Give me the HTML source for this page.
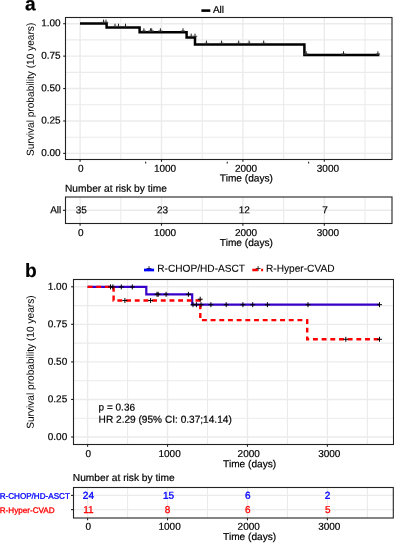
<!DOCTYPE html>
<html><head><meta charset="utf-8"><title>Survival curves</title>
<style>
html,body{margin:0;padding:0;background:#fff;}
body{width:394px;height:543px;overflow:hidden;}
svg{display:block;font-family:"Liberation Sans", Arial, Helvetica, sans-serif;}
text{stroke:currentColor;stroke-width:0.2px;}
</style></head>
<body>
<svg width="394" height="543" viewBox="0 0 394 543">
<rect x="0" y="0" width="394" height="543" fill="#fff"/>
<text transform="translate(24.90,10.30) rotate(0.05)" font-size="19.2" text-anchor="start" fill="#000" color="#000" font-weight="bold" >a</text>
<line x1="201.4" y1="10.6" x2="210.3" y2="10.6" stroke="#000" stroke-width="2.6"/>
<text transform="translate(212.90,13.00) rotate(0.05)" font-size="10" text-anchor="start" fill="#000" color="#000" font-weight="normal" >All</text>
<line x1="120.8" y1="17.5" x2="120.8" y2="159.5" stroke="#ebebeb" stroke-width="1.1"/>
<line x1="202.2" y1="17.5" x2="202.2" y2="159.5" stroke="#ebebeb" stroke-width="1.1"/>
<line x1="283.6" y1="17.5" x2="283.6" y2="159.5" stroke="#ebebeb" stroke-width="1.1"/>
<line x1="365.0" y1="17.5" x2="365.0" y2="159.5" stroke="#ebebeb" stroke-width="1.1"/>
<line x1="65.5" y1="137.19" x2="392.0" y2="137.19" stroke="#ebebeb" stroke-width="1.1"/>
<line x1="65.5" y1="104.76" x2="392.0" y2="104.76" stroke="#ebebeb" stroke-width="1.1"/>
<line x1="65.5" y1="72.34" x2="392.0" y2="72.34" stroke="#ebebeb" stroke-width="1.1"/>
<line x1="65.5" y1="39.91" x2="392.0" y2="39.91" stroke="#ebebeb" stroke-width="1.1"/>
<line x1="80.1" y1="17.5" x2="80.1" y2="159.5" stroke="#ebebeb" stroke-width="1.4"/>
<line x1="161.5" y1="17.5" x2="161.5" y2="159.5" stroke="#ebebeb" stroke-width="1.4"/>
<line x1="242.9" y1="17.5" x2="242.9" y2="159.5" stroke="#ebebeb" stroke-width="1.4"/>
<line x1="324.3" y1="17.5" x2="324.3" y2="159.5" stroke="#ebebeb" stroke-width="1.4"/>
<line x1="65.5" y1="153.4" x2="392.0" y2="153.4" stroke="#ebebeb" stroke-width="1.4"/>
<line x1="65.5" y1="120.98" x2="392.0" y2="120.98" stroke="#ebebeb" stroke-width="1.4"/>
<line x1="65.5" y1="88.55" x2="392.0" y2="88.55" stroke="#ebebeb" stroke-width="1.4"/>
<line x1="65.5" y1="56.13" x2="392.0" y2="56.13" stroke="#ebebeb" stroke-width="1.4"/>
<line x1="65.5" y1="23.7" x2="392.0" y2="23.7" stroke="#ebebeb" stroke-width="1.4"/>
<path d="M80.0,23.6H106.6V27.6H139.6V32.2H186.6V37.5H195.0V44.4H304.4V55.1H379.4" fill="none" stroke="#000" stroke-width="2.5"/>
<path d="M101.4,22.3H105.8" stroke="#444" stroke-width="1.0" fill="none"/><path d="M103.6,19.6V23.4" stroke="#222" stroke-width="1.0" fill="none"/>
<path d="M103.8,22.3H108.2" stroke="#444" stroke-width="1.0" fill="none"/><path d="M106.0,19.6V23.4" stroke="#222" stroke-width="1.0" fill="none"/>
<path d="M112.8,26.4H117.2" stroke="#444" stroke-width="1.0" fill="none"/><path d="M115,23.7V27.5" stroke="#222" stroke-width="1.0" fill="none"/>
<path d="M116.3,26.4H120.7" stroke="#444" stroke-width="1.0" fill="none"/><path d="M118.5,23.7V27.5" stroke="#222" stroke-width="1.0" fill="none"/>
<path d="M123.3,26.4H127.7" stroke="#444" stroke-width="1.0" fill="none"/><path d="M125.5,23.7V27.5" stroke="#222" stroke-width="1.0" fill="none"/>
<path d="M141.7,31.0H146.1" stroke="#444" stroke-width="1.0" fill="none"/><path d="M143.9,28.3V32.1" stroke="#222" stroke-width="1.0" fill="none"/>
<path d="M148.3,31.0H152.7" stroke="#444" stroke-width="1.0" fill="none"/><path d="M150.5,28.3V32.1" stroke="#222" stroke-width="1.0" fill="none"/>
<path d="M149.5,31.0H153.9" stroke="#444" stroke-width="1.0" fill="none"/><path d="M151.7,28.3V32.1" stroke="#222" stroke-width="1.0" fill="none"/>
<path d="M158.2,31.0H162.6" stroke="#444" stroke-width="1.0" fill="none"/><path d="M160.4,28.3V32.1" stroke="#222" stroke-width="1.0" fill="none"/>
<path d="M180.8,31.0H185.2" stroke="#444" stroke-width="1.0" fill="none"/><path d="M183,28.3V32.1" stroke="#222" stroke-width="1.0" fill="none"/>
<path d="M189.0,36.3H193.4" stroke="#444" stroke-width="1.0" fill="none"/><path d="M191.2,33.6V37.4" stroke="#222" stroke-width="1.0" fill="none"/>
<path d="M192.8,36.3H197.2" stroke="#444" stroke-width="1.0" fill="none"/><path d="M195,33.6V37.4" stroke="#222" stroke-width="1.0" fill="none"/>
<path d="M204.2,43.3H208.6" stroke="#444" stroke-width="1.0" fill="none"/><path d="M206.4,40.6V44.4" stroke="#222" stroke-width="1.0" fill="none"/>
<path d="M219.4,43.3H223.8" stroke="#444" stroke-width="1.0" fill="none"/><path d="M221.6,40.6V44.4" stroke="#222" stroke-width="1.0" fill="none"/>
<path d="M236.5,43.3H240.9" stroke="#444" stroke-width="1.0" fill="none"/><path d="M238.7,40.6V44.4" stroke="#222" stroke-width="1.0" fill="none"/>
<path d="M246.9,43.3H251.3" stroke="#444" stroke-width="1.0" fill="none"/><path d="M249.1,40.6V44.4" stroke="#222" stroke-width="1.0" fill="none"/>
<path d="M261.5,43.3H265.9" stroke="#444" stroke-width="1.0" fill="none"/><path d="M263.7,40.6V44.4" stroke="#222" stroke-width="1.0" fill="none"/>
<path d="M304.0,54.0H308.4" stroke="#444" stroke-width="1.0" fill="none"/><path d="M306.2,51.3V55.1" stroke="#222" stroke-width="1.0" fill="none"/>
<path d="M341.3,54.0H345.7" stroke="#444" stroke-width="1.0" fill="none"/><path d="M343.5,51.3V55.1" stroke="#222" stroke-width="1.0" fill="none"/>
<path d="M375.7,54.0H380.1" stroke="#444" stroke-width="1.0" fill="none"/><path d="M377.9,51.3V55.1" stroke="#222" stroke-width="1.0" fill="none"/>
<rect x="65.5" y="17.5" width="326.5" height="142.0" fill="none" stroke="#222222" stroke-width="1.1"/>
<line x1="63.2" y1="153.4" x2="65.5" y2="153.4" stroke="#222222" stroke-width="1.1"/>
<text transform="translate(60.60,156.00) rotate(0.05)" font-size="10" text-anchor="end" fill="#000" color="#000" font-weight="normal" >0.00</text>
<line x1="63.2" y1="120.98" x2="65.5" y2="120.98" stroke="#222222" stroke-width="1.1"/>
<text transform="translate(60.60,123.58) rotate(0.05)" font-size="10" text-anchor="end" fill="#000" color="#000" font-weight="normal" >0.25</text>
<line x1="63.2" y1="88.55" x2="65.5" y2="88.55" stroke="#222222" stroke-width="1.1"/>
<text transform="translate(60.60,91.15) rotate(0.05)" font-size="10" text-anchor="end" fill="#000" color="#000" font-weight="normal" >0.50</text>
<line x1="63.2" y1="56.13" x2="65.5" y2="56.13" stroke="#222222" stroke-width="1.1"/>
<text transform="translate(60.60,58.73) rotate(0.05)" font-size="10" text-anchor="end" fill="#000" color="#000" font-weight="normal" >0.75</text>
<line x1="63.2" y1="23.7" x2="65.5" y2="23.7" stroke="#222222" stroke-width="1.1"/>
<text transform="translate(60.60,26.30) rotate(0.05)" font-size="10" text-anchor="end" fill="#000" color="#000" font-weight="normal" >1.00</text>
<text transform="translate(33.80,89.40) rotate(-89.95)" font-size="10.15" text-anchor="middle" fill="#000" color="#000" font-weight="normal" style="stroke-width:0.05px">Survival probability (10 years)</text>
<line x1="80.1" y1="159.5" x2="80.1" y2="161.8" stroke="#222222" stroke-width="1.1"/>
<text transform="translate(80.90,171.80) rotate(0.05)" font-size="10" text-anchor="middle" fill="#000" color="#000" font-weight="normal" >0</text>
<line x1="161.5" y1="159.5" x2="161.5" y2="161.8" stroke="#222222" stroke-width="1.1"/>
<text transform="translate(165.00,171.80) rotate(0.05)" font-size="10" text-anchor="middle" fill="#000" color="#000" font-weight="normal" >1000</text>
<line x1="242.9" y1="159.5" x2="242.9" y2="161.8" stroke="#222222" stroke-width="1.1"/>
<text transform="translate(246.00,171.80) rotate(0.05)" font-size="10" text-anchor="middle" fill="#000" color="#000" font-weight="normal" >2000</text>
<line x1="324.3" y1="159.5" x2="324.3" y2="161.8" stroke="#222222" stroke-width="1.1"/>
<text transform="translate(327.90,171.80) rotate(0.05)" font-size="10" text-anchor="middle" fill="#000" color="#000" font-weight="normal" >3000</text>
<rect x="145.0" y="161.7" width="1.2" height="1.8" fill="#333"/>
<rect x="226.7" y="161.7" width="1.2" height="1.8" fill="#333"/>
<rect x="308.0" y="161.7" width="1.2" height="1.8" fill="#333"/>
<text transform="translate(246.40,181.40) rotate(0.05)" font-size="10.15" text-anchor="middle" fill="#000" color="#000" font-weight="normal" >Time (days)</text>
<text transform="translate(65.00,191.70) rotate(0.05)" font-size="10.2" text-anchor="start" fill="#000" color="#000" font-weight="normal" >Number at risk by time</text>
<line x1="120.8" y1="197.0" x2="120.8" y2="223.5" stroke="#ebebeb" stroke-width="1.1"/>
<line x1="202.2" y1="197.0" x2="202.2" y2="223.5" stroke="#ebebeb" stroke-width="1.1"/>
<line x1="283.6" y1="197.0" x2="283.6" y2="223.5" stroke="#ebebeb" stroke-width="1.1"/>
<line x1="365.0" y1="197.0" x2="365.0" y2="223.5" stroke="#ebebeb" stroke-width="1.1"/>
<line x1="80.1" y1="197.0" x2="80.1" y2="223.5" stroke="#ebebeb" stroke-width="1.4"/>
<line x1="161.5" y1="197.0" x2="161.5" y2="223.5" stroke="#ebebeb" stroke-width="1.4"/>
<line x1="242.9" y1="197.0" x2="242.9" y2="223.5" stroke="#ebebeb" stroke-width="1.4"/>
<line x1="324.3" y1="197.0" x2="324.3" y2="223.5" stroke="#ebebeb" stroke-width="1.4"/>
<line x1="65.5" y1="210.3" x2="392.0" y2="210.3" stroke="#ebebeb" stroke-width="1.4"/>
<text transform="translate(81.20,213.30) rotate(0.05)" font-size="10" text-anchor="middle" fill="#000" color="#000" font-weight="normal" >35</text>
<text transform="translate(162.60,213.30) rotate(0.05)" font-size="10" text-anchor="middle" fill="#000" color="#000" font-weight="normal" >23</text>
<text transform="translate(244.20,213.30) rotate(0.05)" font-size="10" text-anchor="middle" fill="#000" color="#000" font-weight="normal" >12</text>
<text transform="translate(325.00,213.30) rotate(0.05)" font-size="10" text-anchor="middle" fill="#000" color="#000" font-weight="normal" >7</text>
<rect x="65.5" y="197.0" width="326.5" height="26.5" fill="none" stroke="#222222" stroke-width="1.1"/>
<line x1="62.9" y1="210.3" x2="65.5" y2="210.3" stroke="#222222" stroke-width="1.1"/>
<text transform="translate(61.30,213.30) rotate(0.05)" font-size="10" text-anchor="end" fill="#000" color="#000" font-weight="normal" >All</text>
<line x1="80.1" y1="223.5" x2="80.1" y2="225.7" stroke="#222222" stroke-width="1.1"/>
<text transform="translate(80.90,236.10) rotate(0.05)" font-size="10" text-anchor="middle" fill="#000" color="#000" font-weight="normal" >0</text>
<line x1="161.5" y1="223.5" x2="161.5" y2="225.7" stroke="#222222" stroke-width="1.1"/>
<text transform="translate(165.00,236.10) rotate(0.05)" font-size="10" text-anchor="middle" fill="#000" color="#000" font-weight="normal" >1000</text>
<line x1="242.9" y1="223.5" x2="242.9" y2="225.7" stroke="#222222" stroke-width="1.1"/>
<text transform="translate(246.00,236.10) rotate(0.05)" font-size="10" text-anchor="middle" fill="#000" color="#000" font-weight="normal" >2000</text>
<line x1="324.3" y1="223.5" x2="324.3" y2="225.7" stroke="#222222" stroke-width="1.1"/>
<text transform="translate(327.90,236.10) rotate(0.05)" font-size="10" text-anchor="middle" fill="#000" color="#000" font-weight="normal" >3000</text>
<text transform="translate(246.40,246.00) rotate(0.05)" font-size="10.15" text-anchor="middle" fill="#000" color="#000" font-weight="normal" >Time (days)</text>
<text transform="translate(24.90,277.10) rotate(0.05)" font-size="19.2" text-anchor="start" fill="#000" color="#000" font-weight="bold" >b</text>
<path d="M146.6,268.5H151.4M149.0,266.1V270.9" stroke="#333" stroke-width="1.0" fill="none"/>
<line x1="144.0" y1="270" x2="154.1" y2="270" stroke="#0000ff" stroke-width="2.7"/>
<text transform="translate(157.30,271.80) rotate(0.05)" font-size="10.15" text-anchor="start" fill="#000" color="#000" font-weight="normal" style="stroke-width:0.1px">R-CHOP/HD-ASCT</text>
<path d="M255.7,268.5H260.5M258.1,266.1V270.9" stroke="#333" stroke-width="1.0" fill="none"/>
<path d="M252.3,270H263.1" stroke="#ff0000" stroke-width="2.7" stroke-dasharray="5.6 3.2"/>
<text transform="translate(266.00,271.80) rotate(0.05)" font-size="10.15" text-anchor="start" fill="#000" color="#000" font-weight="normal" style="stroke-width:0.1px">R-Hyper-CVAD</text>
<line x1="127.56" y1="279.5" x2="127.56" y2="444.5" stroke="#ebebeb" stroke-width="1.1"/>
<line x1="207.5" y1="279.5" x2="207.5" y2="444.5" stroke="#ebebeb" stroke-width="1.1"/>
<line x1="287.42" y1="279.5" x2="287.42" y2="444.5" stroke="#ebebeb" stroke-width="1.1"/>
<line x1="367.36" y1="279.5" x2="367.36" y2="444.5" stroke="#ebebeb" stroke-width="1.1"/>
<line x1="73.5" y1="418.23" x2="393.5" y2="418.23" stroke="#ebebeb" stroke-width="1.1"/>
<line x1="73.5" y1="380.68" x2="393.5" y2="380.68" stroke="#ebebeb" stroke-width="1.1"/>
<line x1="73.5" y1="343.12" x2="393.5" y2="343.12" stroke="#ebebeb" stroke-width="1.1"/>
<line x1="73.5" y1="305.58" x2="393.5" y2="305.58" stroke="#ebebeb" stroke-width="1.1"/>
<line x1="87.6" y1="279.5" x2="87.6" y2="444.5" stroke="#ebebeb" stroke-width="1.4"/>
<line x1="167.53" y1="279.5" x2="167.53" y2="444.5" stroke="#ebebeb" stroke-width="1.4"/>
<line x1="247.46" y1="279.5" x2="247.46" y2="444.5" stroke="#ebebeb" stroke-width="1.4"/>
<line x1="327.39" y1="279.5" x2="327.39" y2="444.5" stroke="#ebebeb" stroke-width="1.4"/>
<line x1="73.5" y1="437.0" x2="393.5" y2="437.0" stroke="#ebebeb" stroke-width="1.4"/>
<line x1="73.5" y1="399.45" x2="393.5" y2="399.45" stroke="#ebebeb" stroke-width="1.4"/>
<line x1="73.5" y1="361.9" x2="393.5" y2="361.9" stroke="#ebebeb" stroke-width="1.4"/>
<line x1="73.5" y1="324.35" x2="393.5" y2="324.35" stroke="#ebebeb" stroke-width="1.4"/>
<line x1="73.5" y1="286.8" x2="393.5" y2="286.8" stroke="#ebebeb" stroke-width="1.4"/>
<path d="M87.6,286.9H146.3V294.3H192.2V304.7H379.5" fill="none" stroke="#3800c8" stroke-width="2.2"/>
<path d="M87.6,286.9H113.6V300.5H200.3V320.1H307.2V339.3H379.5" fill="none" stroke="#ff0000" stroke-width="2.4" stroke-dasharray="4.9 3.78"/>
<path d="M108.0,286.9H113.0M110.5,284.4V289.4" stroke="#000" stroke-width="1.0" fill="none"/>
<path d="M110.4,286.9H115.4M112.9,284.4V289.4" stroke="#000" stroke-width="1.0" fill="none"/>
<path d="M118.8,286.9H123.8M121.3,284.4V289.4" stroke="#000" stroke-width="1.0" fill="none"/>
<path d="M129.8,286.9H134.8M132.3,284.4V289.4" stroke="#000" stroke-width="1.0" fill="none"/>
<path d="M154.5,294.3H159.5M157,291.8V296.8" stroke="#000" stroke-width="1.0" fill="none"/>
<path d="M155.7,294.3H160.7M158.2,291.8V296.8" stroke="#000" stroke-width="1.0" fill="none"/>
<path d="M163.6,294.3H168.6M166.1,291.8V296.8" stroke="#000" stroke-width="1.0" fill="none"/>
<path d="M185.9,294.3H190.9M188.4,291.8V296.8" stroke="#000" stroke-width="1.0" fill="none"/>
<path d="M190.5,304.7H195.5M193,302.2V307.2" stroke="#000" stroke-width="1.0" fill="none"/>
<path d="M193.9,304.7H198.9M196.4,302.2V307.2" stroke="#000" stroke-width="1.0" fill="none"/>
<path d="M198.5,304.7H203.5M201,302.2V307.2" stroke="#000" stroke-width="1.0" fill="none"/>
<path d="M208.4,304.7H213.4M210.9,302.2V307.2" stroke="#000" stroke-width="1.0" fill="none"/>
<path d="M223.7,304.7H228.7M226.2,302.2V307.2" stroke="#000" stroke-width="1.0" fill="none"/>
<path d="M240.4,304.7H245.4M242.9,302.2V307.2" stroke="#000" stroke-width="1.0" fill="none"/>
<path d="M250.2,304.7H255.2M252.7,302.2V307.2" stroke="#000" stroke-width="1.0" fill="none"/>
<path d="M264.9,304.7H269.9M267.4,302.2V307.2" stroke="#000" stroke-width="1.0" fill="none"/>
<path d="M305.5,304.7H310.5M308,302.2V307.2" stroke="#000" stroke-width="1.0" fill="none"/>
<path d="M377.0,304.7H382.0M379.5,302.2V307.2" stroke="#000" stroke-width="1.0" fill="none"/>
<path d="M122.4,300.5H127.4M124.9,298.0V303.0" stroke="#000" stroke-width="1.0" fill="none"/>
<path d="M148.1,300.5H153.1M150.6,298.0V303.0" stroke="#000" stroke-width="1.0" fill="none"/>
<path d="M197.7,299.2H202.7M200.2,296.7V301.7" stroke="#000" stroke-width="1.0" fill="none"/>
<path d="M343.3,339.3H348.3M345.8,336.8V341.8" stroke="#000" stroke-width="1.0" fill="none"/>
<path d="M377.0,339.3H382.0M379.5,336.8V341.8" stroke="#000" stroke-width="1.0" fill="none"/>
<rect x="73.5" y="279.5" width="320.0" height="165.0" fill="none" stroke="#222222" stroke-width="1.1"/>
<text transform="translate(98.60,410.60) rotate(0.05)" font-size="10" text-anchor="start" fill="#000" color="#000" font-weight="normal" >p = 0.36</text>
<text transform="translate(98.60,422.70) rotate(0.05)" font-size="10.12" text-anchor="start" fill="#000" color="#000" font-weight="normal" >HR 2.29 (95% CI: 0.37;14.14)</text>
<line x1="71.1" y1="437.0" x2="73.5" y2="437.0" stroke="#222222" stroke-width="1.1"/>
<text transform="translate(67.20,439.90) rotate(0.05)" font-size="10" text-anchor="end" fill="#000" color="#000" font-weight="normal" >0.00</text>
<line x1="71.1" y1="399.45" x2="73.5" y2="399.45" stroke="#222222" stroke-width="1.1"/>
<text transform="translate(67.20,402.35) rotate(0.05)" font-size="10" text-anchor="end" fill="#000" color="#000" font-weight="normal" >0.25</text>
<line x1="71.1" y1="361.9" x2="73.5" y2="361.9" stroke="#222222" stroke-width="1.1"/>
<text transform="translate(67.20,364.80) rotate(0.05)" font-size="10" text-anchor="end" fill="#000" color="#000" font-weight="normal" >0.50</text>
<line x1="71.1" y1="324.35" x2="73.5" y2="324.35" stroke="#222222" stroke-width="1.1"/>
<text transform="translate(67.20,327.25) rotate(0.05)" font-size="10" text-anchor="end" fill="#000" color="#000" font-weight="normal" >0.75</text>
<line x1="71.1" y1="286.8" x2="73.5" y2="286.8" stroke="#222222" stroke-width="1.1"/>
<text transform="translate(67.20,289.70) rotate(0.05)" font-size="10" text-anchor="end" fill="#000" color="#000" font-weight="normal" >1.00</text>
<text transform="translate(33.80,362.10) rotate(-89.95)" font-size="10.15" text-anchor="middle" fill="#000" color="#000" font-weight="normal" style="stroke-width:0.05px">Survival probability (10 years)</text>
<line x1="87.6" y1="444.5" x2="87.6" y2="446.8" stroke="#222222" stroke-width="1.1"/>
<text transform="translate(88.40,456.90) rotate(0.05)" font-size="10" text-anchor="middle" fill="#000" color="#000" font-weight="normal" >0</text>
<line x1="167.53" y1="444.5" x2="167.53" y2="446.8" stroke="#222222" stroke-width="1.1"/>
<text transform="translate(169.60,456.90) rotate(0.05)" font-size="10" text-anchor="middle" fill="#000" color="#000" font-weight="normal" >1000</text>
<line x1="247.46" y1="444.5" x2="247.46" y2="446.8" stroke="#222222" stroke-width="1.1"/>
<text transform="translate(248.70,456.90) rotate(0.05)" font-size="10" text-anchor="middle" fill="#000" color="#000" font-weight="normal" >2000</text>
<line x1="327.39" y1="444.5" x2="327.39" y2="446.8" stroke="#222222" stroke-width="1.1"/>
<text transform="translate(329.30,456.90) rotate(0.05)" font-size="10" text-anchor="middle" fill="#000" color="#000" font-weight="normal" >3000</text>
<text transform="translate(249.60,467.30) rotate(0.05)" font-size="10.15" text-anchor="middle" fill="#000" color="#000" font-weight="normal" >Time (days)</text>
<text transform="translate(72.80,481.00) rotate(0.05)" font-size="10.2" text-anchor="start" fill="#000" color="#000" font-weight="normal" >Number at risk by time</text>
<line x1="127.56" y1="487.5" x2="127.56" y2="518.0" stroke="#ebebeb" stroke-width="1.1"/>
<line x1="207.5" y1="487.5" x2="207.5" y2="518.0" stroke="#ebebeb" stroke-width="1.1"/>
<line x1="287.42" y1="487.5" x2="287.42" y2="518.0" stroke="#ebebeb" stroke-width="1.1"/>
<line x1="367.36" y1="487.5" x2="367.36" y2="518.0" stroke="#ebebeb" stroke-width="1.1"/>
<line x1="87.6" y1="487.5" x2="87.6" y2="518.0" stroke="#ebebeb" stroke-width="1.4"/>
<line x1="167.53" y1="487.5" x2="167.53" y2="518.0" stroke="#ebebeb" stroke-width="1.4"/>
<line x1="247.46" y1="487.5" x2="247.46" y2="518.0" stroke="#ebebeb" stroke-width="1.4"/>
<line x1="327.39" y1="487.5" x2="327.39" y2="518.0" stroke="#ebebeb" stroke-width="1.4"/>
<line x1="73.5" y1="495.4" x2="393.3" y2="495.4" stroke="#ebebeb" stroke-width="1.4"/>
<line x1="73.5" y1="509.6" x2="393.3" y2="509.6" stroke="#ebebeb" stroke-width="1.4"/>
<text transform="translate(88.40,498.80) rotate(0.05)" font-size="10" text-anchor="middle" fill="#0000ff" color="#0000ff" font-weight="normal" style="stroke-width:0.35px">24</text>
<text transform="translate(168.60,498.80) rotate(0.05)" font-size="10" text-anchor="middle" fill="#0000ff" color="#0000ff" font-weight="normal" style="stroke-width:0.35px">15</text>
<text transform="translate(247.80,498.80) rotate(0.05)" font-size="10" text-anchor="middle" fill="#0000ff" color="#0000ff" font-weight="normal" style="stroke-width:0.35px">6</text>
<text transform="translate(327.60,498.80) rotate(0.05)" font-size="10" text-anchor="middle" fill="#0000ff" color="#0000ff" font-weight="normal" style="stroke-width:0.35px">2</text>
<text transform="translate(88.40,512.90) rotate(0.05)" font-size="10" text-anchor="middle" fill="#ff0000" color="#ff0000" font-weight="normal" style="stroke-width:0.3px">11</text>
<text transform="translate(167.60,512.90) rotate(0.05)" font-size="10" text-anchor="middle" fill="#ff0000" color="#ff0000" font-weight="normal" style="stroke-width:0.3px">8</text>
<text transform="translate(247.80,512.90) rotate(0.05)" font-size="10" text-anchor="middle" fill="#ff0000" color="#ff0000" font-weight="normal" style="stroke-width:0.3px">6</text>
<text transform="translate(327.80,512.90) rotate(0.05)" font-size="10" text-anchor="middle" fill="#ff0000" color="#ff0000" font-weight="normal" style="stroke-width:0.3px">5</text>
<rect x="73.5" y="487.5" width="319.8" height="30.5" fill="none" stroke="#222222" stroke-width="1.1"/>
<line x1="71.0" y1="495.4" x2="73.5" y2="495.4" stroke="#222222" stroke-width="1.1"/>
<line x1="71.0" y1="509.6" x2="73.5" y2="509.6" stroke="#222222" stroke-width="1.1"/>
<text transform="translate(-0.30,498.80) rotate(0.05)" font-size="8.1" text-anchor="start" fill="#0000ff" color="#0000ff" font-weight="normal" style="stroke-width:0.3px">R-CHOP/HD-ASCT</text>
<text transform="translate(-0.30,513.00) rotate(0.05)" font-size="8.15" text-anchor="start" fill="#ff0000" color="#ff0000" font-weight="normal" style="stroke-width:0.3px">R-Hyper-CVAD</text>
<line x1="87.6" y1="518.0" x2="87.6" y2="520.3" stroke="#222222" stroke-width="1.1"/>
<text transform="translate(88.40,529.80) rotate(0.05)" font-size="10" text-anchor="middle" fill="#000" color="#000" font-weight="normal" >0</text>
<line x1="167.53" y1="518.0" x2="167.53" y2="520.3" stroke="#222222" stroke-width="1.1"/>
<text transform="translate(169.60,529.80) rotate(0.05)" font-size="10" text-anchor="middle" fill="#000" color="#000" font-weight="normal" >1000</text>
<line x1="247.46" y1="518.0" x2="247.46" y2="520.3" stroke="#222222" stroke-width="1.1"/>
<text transform="translate(248.70,529.80) rotate(0.05)" font-size="10" text-anchor="middle" fill="#000" color="#000" font-weight="normal" >2000</text>
<line x1="327.39" y1="518.0" x2="327.39" y2="520.3" stroke="#222222" stroke-width="1.1"/>
<text transform="translate(329.30,529.80) rotate(0.05)" font-size="10" text-anchor="middle" fill="#000" color="#000" font-weight="normal" >3000</text>
<text transform="translate(249.60,540.00) rotate(0.05)" font-size="10.15" text-anchor="middle" fill="#000" color="#000" font-weight="normal" >Time (days)</text>
</svg>
</body></html>
